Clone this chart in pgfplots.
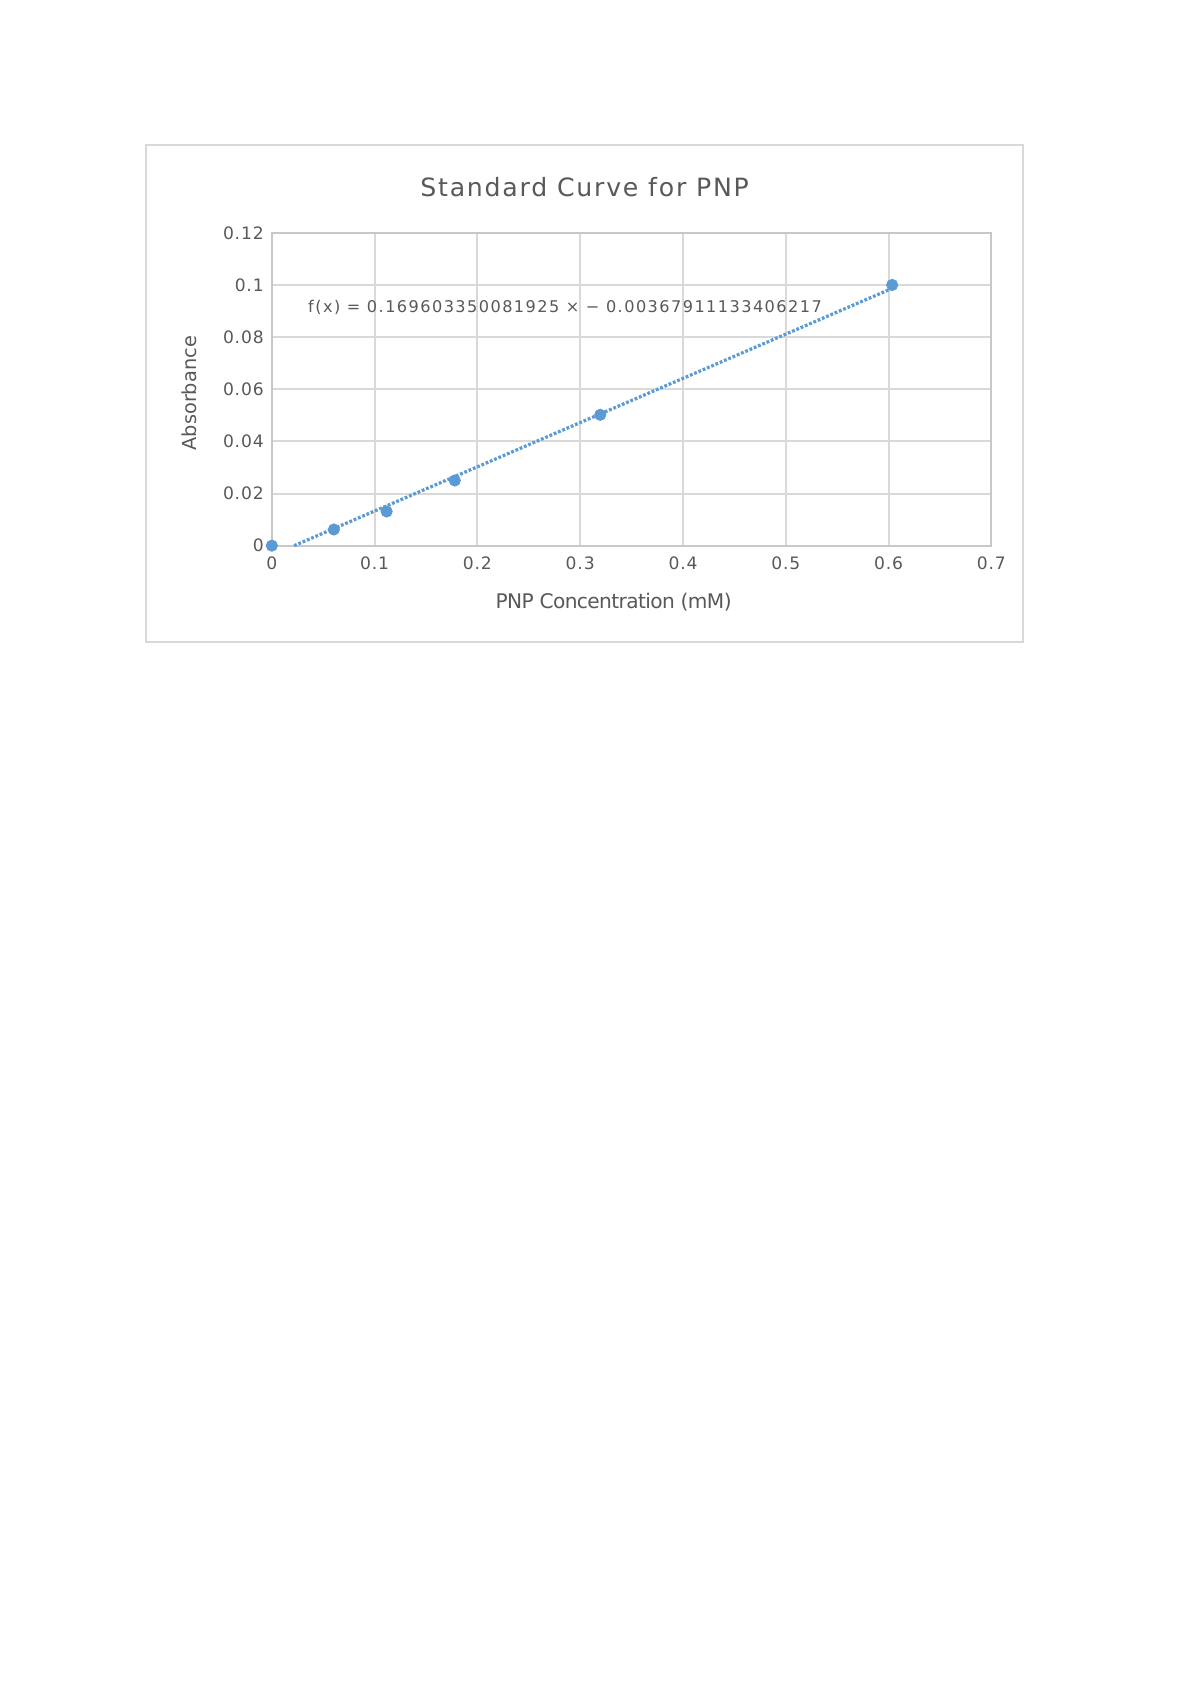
\documentclass[border=0pt]{standalone}
\usepackage{fontspec}
\setmainfont{DejaVu Sans}
\usepackage{pgfplots}
\pgfplotsset{compat=1.18}

\definecolor{ptblue}{HTML}{5B9BD5}
\definecolor{txtgray}{HTML}{595959}
\definecolor{gridgray}{HTML}{D9D9D9}
\definecolor{axgray}{HTML}{C8C8C8}

\newfontfamily\tickfont[LetterSpace=5]{DejaVu Sans}
\newfontfamily\titlefont[LetterSpace=7]{DejaVu Sans}
\newfontfamily\eqfont[LetterSpace=9]{DejaVu Sans}
\newfontfamily\xlabfont[LetterSpace=-3]{DejaVu Sans}

\begin{document}
\begin{tikzpicture}
  % whole A4 page
  \useasboundingbox (0,0) rectangle (595.28pt,-841.89pt);
  \fill[white] (0,0) rectangle (595.28pt,-841.89pt);
  % chart frame
  \draw[gridgray, line width=1pt] (72.43pt,-71.93pt) rectangle (507.99pt,-318.48pt);
  % title and axis titles
  \node[anchor=base, text=txtgray, font=\titlefont\fontsize{12.5}{14}\selectfont]
    at (290.2pt,-97.7pt) {Standard Curve for PNP};
  \node[anchor=base, text=txtgray, font=\xlabfont\fontsize{10}{12}\selectfont]
    at (304.6pt,-302.1pt) {PNP Concentration (mM)};
  \node[anchor=base, rotate=90, text=txtgray, font=\fontsize{9.6}{12}\selectfont]
    at (97.7pt,-195.2pt) {Absorbance};

  \begin{axis}[
    at={(134.93pt,-270.86pt)}, anchor=south west,
    scale only axis, width=357.18pt, height=155.27pt,
    xmin=0, xmax=0.7, ymin=0, ymax=0.12,
    xtick={0,0.1,...,0.7}, ytick={0,0.02,...,0.12},
    xticklabels={0,0.1,0.2,0.3,0.4,0.5,0.6,0.7},
    yticklabels={0,0.02,0.04,0.06,0.08,0.1,0.12},
    major tick length=0pt,
    grid=major,
    grid style={gridgray, line width=1pt},
    axis line style={axgray, line width=1pt},
    ticklabel style={text=txtgray, font=\tickfont\fontsize{8.5}{10}\selectfont},
    xticklabel style={yshift=-2pt},
    yticklabel style={xshift=-0.5pt},
    clip=false,
    ]
    % trend line f(x) = 0.1696 x - 0.00368
    \addplot[ptblue, line width=1.6pt, dash pattern=on 1.4pt off 0.9pt]
      coordinates {(0.0217,0) (0.6035,0.0987)};
    \addplot[only marks, mark=*, mark size=2.8pt, mark options={fill=ptblue, draw=ptblue}]
      coordinates {
        (0,0)
        (0.0604,0.0062)
        (0.1117,0.0131)
        (0.178,0.025)
        (0.3195,0.0502)
        (0.6035,0.1)
      };
    \node[anchor=west, text=txtgray, font=\eqfont\fontsize{8}{9}\selectfont, inner sep=0pt]
      at (axis cs:0.035,0.0913) {f(x) = 0.169603350081925 × − 0.00367911133406217};
  \end{axis}
\end{tikzpicture}
\end{document}
